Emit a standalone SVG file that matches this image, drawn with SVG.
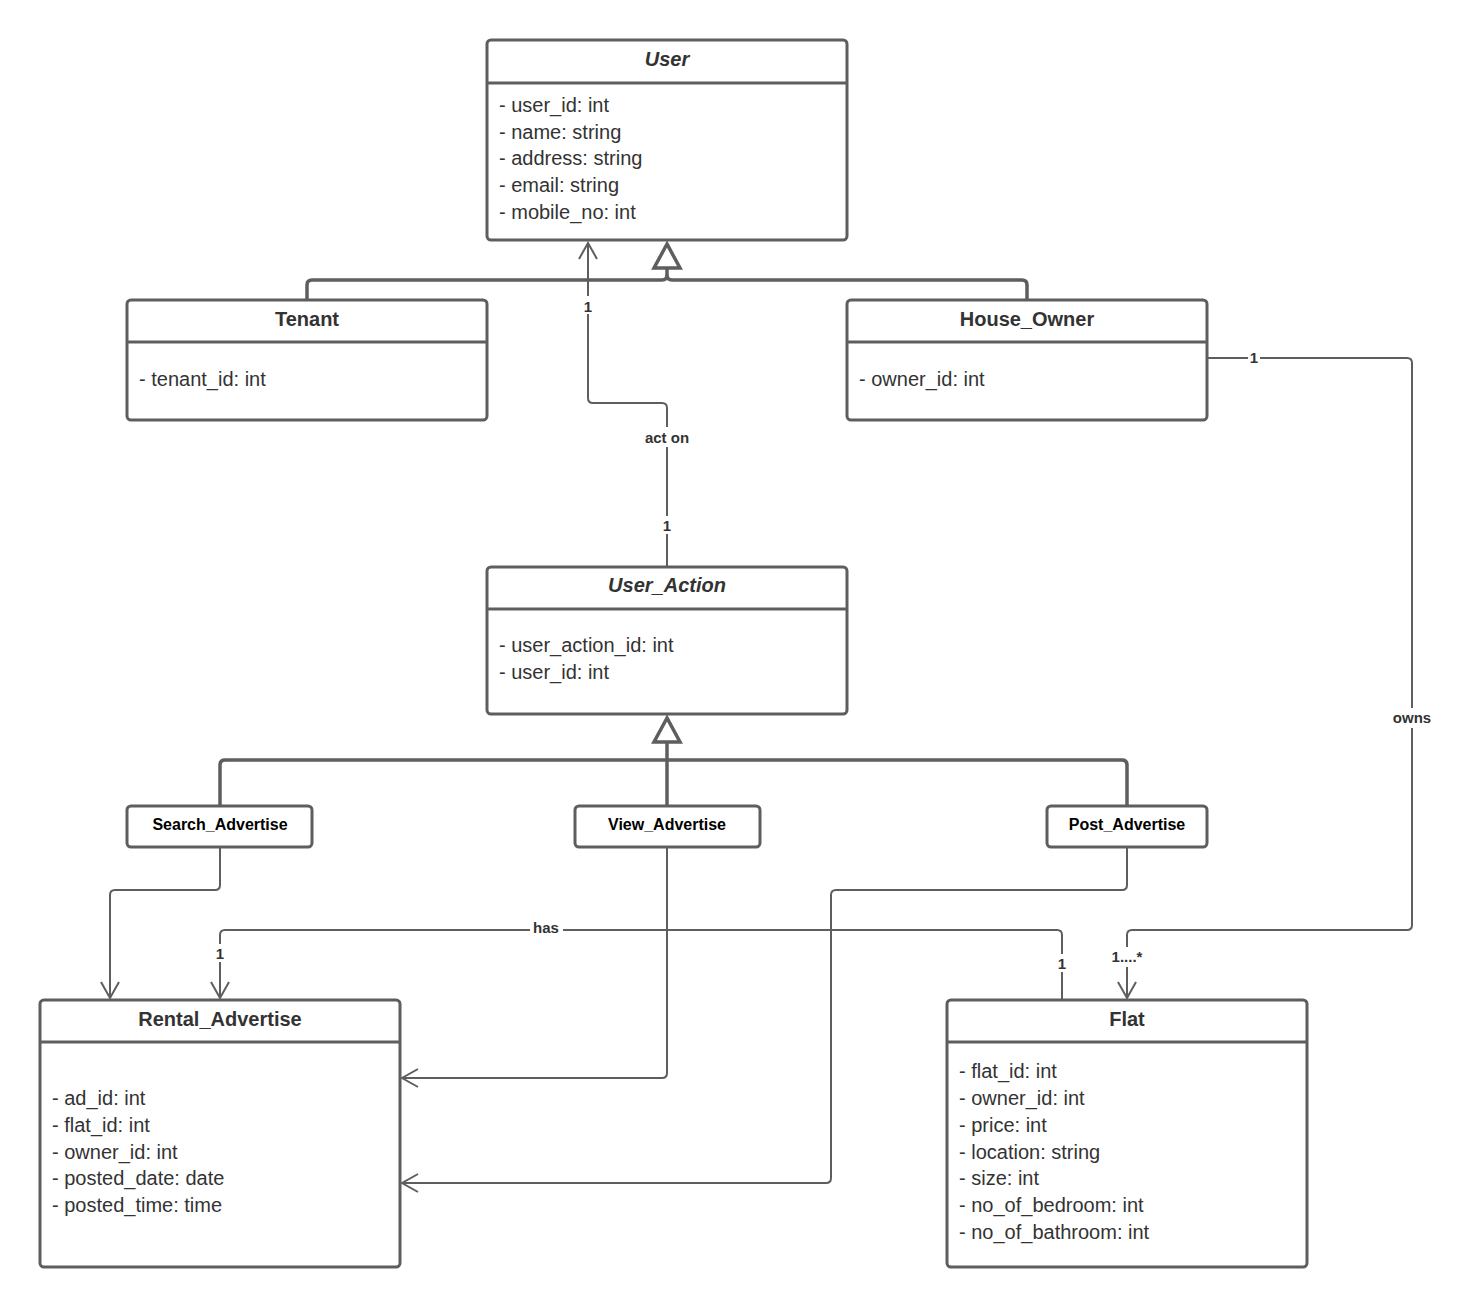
<svg xmlns="http://www.w3.org/2000/svg" width="1475" height="1307" viewBox="0 0 1475 1307">
<style>
.box{fill:#fff;stroke:#5e5e5e;stroke-width:3}
.div{stroke:#5e5e5e;stroke-width:3}
.t{font-family:"Liberation Sans",Arial,sans-serif;fill:#333;font-size:20px}
.h{font-weight:bold;text-anchor:middle}
.i{font-style:italic}
.s{font-family:"Liberation Sans",Arial,sans-serif;fill:#000;font-size:16px;font-weight:bold;text-anchor:middle}
.lb{font-family:"Liberation Sans",Arial,sans-serif;fill:#333;font-size:15px;font-weight:bold;text-anchor:middle}
.c{fill:none;stroke:#5e5e5e;stroke-width:2;stroke-linejoin:round}
.g{fill:none;stroke:#5e5e5e;stroke-width:3.5;stroke-linejoin:round}
.tri{fill:#fff;stroke:#5e5e5e;stroke-width:3.5}
</style>
<defs>
<marker id="open" markerWidth="20" markerHeight="20" refX="18" refY="10" orient="auto" markerUnits="userSpaceOnUse">
<path d="M2,1 L18,10 L2,19" fill="none" stroke="#5e5e5e" stroke-width="2"/>
</marker>
</defs>
<rect width="1475" height="1307" fill="#fff"/>
<g id="connectors">
<path class="g" d="M307,300 V285 Q307,280 312,280 H662 Q667,280 667,275 V268"/>
<path class="g" d="M1027,300 V285 Q1027,280 1022,280 H672 Q667,280 667,275"/>
<polygon class="tri" points="667,244 654,268 680,268"/>
<path class="g" d="M220,806 V765 Q220,760 225,760 H1122 Q1127,760 1127,765 V806"/>
<path class="g" d="M667,806 V742"/>
<polygon class="tri" points="667,718 654,742 680,742"/>
<path class="c" d="M667,567 V408 Q667,403 662,403 H593 Q588,403 588,398 V243" marker-end="url(#open)"/>
<path class="c" d="M1208,358 H1407 Q1412,358 1412,363 V925 Q1412,930 1407,930 H1132 Q1127,930 1127,935 V998" marker-end="url(#open)"/>
<path class="c" d="M220,847 V885 Q220,890 215,890 H115 Q110,890 110,895 V998" marker-end="url(#open)"/>
<path class="c" d="M667,847 V1073 Q667,1078 662,1078 H402" marker-end="url(#open)"/>
<path class="c" d="M1127,847 V885 Q1127,890 1122,890 H836 Q831,890 831,895 V1178 Q831,1183 826,1183 H402" marker-end="url(#open)"/>
<path class="c" d="M1062,1000 V935 Q1062,930 1057,930 H225 Q220,930 220,935 V998" marker-end="url(#open)"/>
<rect x="640" y="427" width="54" height="20" fill="#fff"/>
<text class="lb" x="667" y="443">act on</text>
<rect x="582" y="296" width="12" height="18" fill="#fff"/>
<text class="lb" x="588" y="312">1</text>
<rect x="661" y="516" width="12" height="18" fill="#fff"/>
<text class="lb" x="667" y="531">1</text>
<rect x="1248" y="349" width="12" height="18" fill="#fff"/>
<text class="lb" x="1254" y="363">1</text>
<rect x="1388" y="708" width="48" height="20" fill="#fff"/>
<text class="lb" x="1412" y="723">owns</text>
<rect x="1105" y="947" width="44" height="20" fill="#fff"/>
<text class="lb" x="1127" y="962">1....*</text>
<rect x="530" y="919" width="33" height="18" fill="#fff"/>
<text class="lb" x="546" y="933">has</text>
<rect x="214" y="944" width="12" height="18" fill="#fff"/>
<text class="lb" x="220" y="959">1</text>
<rect x="1056" y="954" width="12" height="18" fill="#fff"/>
<text class="lb" x="1062" y="969">1</text>
</g>
<g id="User">
<rect class="box" x="487" y="40" width="360" height="200" rx="4"/>
<line class="div" x1="487" y1="83" x2="847" y2="83"/>
<text class="t h i" x="667" y="66">User</text>
<text class="t" x="499" y="112">- user_id: int</text>
<text class="t" x="499" y="139">- name: string</text>
<text class="t" x="499" y="165">- address: string</text>
<text class="t" x="499" y="192">- email: string</text>
<text class="t" x="499" y="219">- mobile_no: int</text>
</g>
<g id="Tenant">
<rect class="box" x="127" y="300" width="360" height="120" rx="4"/>
<line class="div" x1="127" y1="342" x2="487" y2="342"/>
<text class="t h" x="307" y="326">Tenant</text>
<text class="t" x="139" y="386">- tenant_id: int</text>
</g>
<g id="House_Owner">
<rect class="box" x="847" y="300" width="360" height="120" rx="4"/>
<line class="div" x1="847" y1="342" x2="1207" y2="342"/>
<text class="t h" x="1027" y="326">House_Owner</text>
<text class="t" x="859" y="386">- owner_id: int</text>
</g>
<g id="User_Action">
<rect class="box" x="487" y="567" width="360" height="147" rx="4"/>
<line class="div" x1="487" y1="609" x2="847" y2="609"/>
<text class="t h i" x="667" y="592">User_Action</text>
<text class="t" x="499" y="652">- user_action_id: int</text>
<text class="t" x="499" y="679">- user_id: int</text>
</g>
<g id="Search_Advertise">
<rect class="box" x="127" y="806" width="185" height="41" rx="4"/>
<text class="s" x="220" y="830">Search_Advertise</text>
</g>
<g id="View_Advertise">
<rect class="box" x="575" y="806" width="185" height="41" rx="4"/>
<text class="s" x="667" y="830">View_Advertise</text>
</g>
<g id="Post_Advertise">
<rect class="box" x="1047" y="806" width="160" height="41" rx="4"/>
<text class="s" x="1127" y="830">Post_Advertise</text>
</g>
<g id="Rental_Advertise">
<rect class="box" x="40" y="1000" width="360" height="267" rx="4"/>
<line class="div" x1="40" y1="1042" x2="400" y2="1042"/>
<text class="t h" x="220" y="1026">Rental_Advertise</text>
<text class="t" x="52" y="1105">- ad_id: int</text>
<text class="t" x="52" y="1132">- flat_id: int</text>
<text class="t" x="52" y="1159">- owner_id: int</text>
<text class="t" x="52" y="1185">- posted_date: date</text>
<text class="t" x="52" y="1212">- posted_time: time</text>
</g>
<g id="Flat">
<rect class="box" x="947" y="1000" width="360" height="267" rx="4"/>
<line class="div" x1="947" y1="1042" x2="1307" y2="1042"/>
<text class="t h" x="1127" y="1026">Flat</text>
<text class="t" x="959" y="1078">- flat_id: int</text>
<text class="t" x="959" y="1105">- owner_id: int</text>
<text class="t" x="959" y="1132">- price: int</text>
<text class="t" x="959" y="1159">- location: string</text>
<text class="t" x="959" y="1185">- size: int</text>
<text class="t" x="959" y="1212">- no_of_bedroom: int</text>
<text class="t" x="959" y="1239">- no_of_bathroom: int</text>
</g>
</svg>
